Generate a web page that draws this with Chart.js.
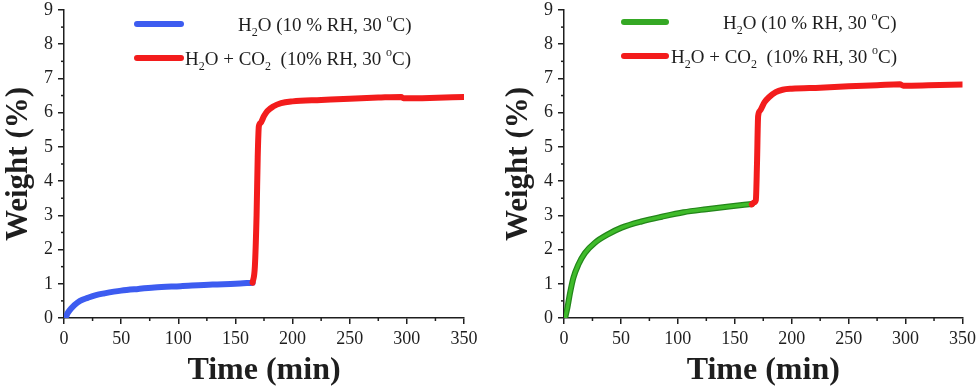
<!DOCTYPE html>
<html>
<head>
<meta charset="utf-8">
<script src="https://cdn.jsdelivr.net/npm/chart.js@4.4.1/dist/chart.umd.min.js"></script>
<style>
  html, body { margin: 0; padding: 0; background: #fff; }
  .panel { position: absolute; top: 0; width: 490px; height: 390px; }
  #leftBox { left: 0; }
  #rightBox { left: 490px; }
</style>
</head>
<body>
<div class="panel" id="leftBox"><canvas id="leftChart" width="490" height="390"></canvas></div>
<div class="panel" id="rightBox"><canvas id="rightChart" width="490" height="390"></canvas></div>
<script>
// ---- data ----
// left panel: H2O only, then H2O + CO2
const leftWaterTime = [0, 1.5, 3.3, 6, 9.2, 14, 20.8, 28, 35.4, 50, 65, 79, 102, 130, 150, 165];
const leftWaterWt   = [0, 0.03, 0.15, 0.27, 0.38, 0.5, 0.59, 0.67, 0.72, 0.8, 0.85, 0.89, 0.93, 0.98, 1.0, 1.03];
const leftCo2Time = [165, 167, 168.5, 169.5, 170.5, 172, 175, 178, 183, 190, 200, 225, 250, 275, 295, 297, 320, 350];
const leftCo2Wt   = [1.03, 1.5, 3.0, 4.7, 5.6, 5.7, 5.9, 6.05, 6.18, 6.28, 6.33, 6.37, 6.41, 6.44, 6.46, 6.42, 6.43, 6.46];

// right panel
const rightWaterTime = [1, 3, 5.3, 8.2, 12.6, 18.4, 27.2, 38.9, 50.6, 68, 86, 105, 125, 145, 165];
const rightWaterWt   = [0, 0.3, 0.73, 1.17, 1.56, 1.9, 2.2, 2.45, 2.64, 2.82, 2.96, 3.09, 3.18, 3.26, 3.33];
const rightCo2Time = [165, 167, 168.5, 169.5, 170.5, 172, 176, 180, 186, 192, 200, 225, 250, 275, 295, 298, 320, 350];
const rightCo2Wt   = [3.32, 3.38, 3.45, 4.5, 5.9, 6.05, 6.3, 6.45, 6.6, 6.67, 6.7, 6.73, 6.77, 6.8, 6.83, 6.79, 6.8, 6.82];

// legend text, split into runs: normal / sub / sup
const legendWater = [['H', ''], ['2', 'sub'], ['O (10 % RH, 30 ', ''], ['o', 'sup'], ['C)', '']];
const legendCo2   = [['H', ''], ['2', 'sub'], ['O + CO', ''], ['2', 'sub'], ['  (10% RH, 30 ', ''], ['o', 'sup'], ['C)', '']];

const xTitle = 'Time (min)';
const yTitle = 'Weight (%)';

const SERIF = '"Liberation Serif", "Times New Roman", serif';
const INK = '#1e1e1e';

function toPoints(xs, ys) {
    return xs.map((x, i) => ({ x: x, y: ys[i] }));
}

// draws the short minor ticks and the legend (sub/superscript text)
const extrasPlugin = {
    id: 'extras',
    afterDraw(chart, args, opts) {
        const ctx = chart.ctx;
        const xs = chart.scales.x, ys = chart.scales.y;
        ctx.save();
        ctx.strokeStyle = INK;
        ctx.lineWidth = 1.5;
        // minor ticks
        for (let v = 0.5; v < 9; v += 1) {
            const p = ys.getPixelForValue(v);
            ctx.beginPath(); ctx.moveTo(ys.right - 3, p); ctx.lineTo(ys.right, p); ctx.stroke();
        }
        for (let v = 25; v < 350; v += 50) {
            const p = xs.getPixelForValue(v);
            ctx.beginPath(); ctx.moveTo(p, xs.top); ctx.lineTo(p, xs.top + 3); ctx.stroke();
        }
        // legend
        opts.items.forEach(item => {
            ctx.strokeStyle = item.color;
            ctx.lineWidth = 6;
            ctx.lineCap = 'round';
            ctx.beginPath();
            ctx.moveTo(opts.lineX0, item.lineY);
            ctx.lineTo(opts.lineX1, item.lineY);
            ctx.stroke();
            let x = item.textX;
            ctx.fillStyle = INK;
            ctx.textBaseline = 'alphabetic';
            item.runs.forEach(run => {
                let size = 19, dy = 0;
                if (run[1] === 'sub') { size = 12; dy = 5; }
                if (run[1] === 'sup') { size = 12; dy = -9; }
                ctx.font = size + 'px ' + SERIF;
                ctx.fillText(run[0], x, item.baseY + dy);
                x += ctx.measureText(run[0]).width;
            });
        });
        ctx.restore();
    }
};

function makeChart(canvasId, waterPts, co2Pts, waterColor, padLeft, padRight, legendOpts, greenEdge) {
    const datasets = [{
        label: 'H2O + CO2',
        data: co2Pts,
        borderColor: '#f31c1c',
        borderWidth: 6
    }];
    if (greenEdge) {
        datasets.push({ label: 'H2O core', data: waterPts, borderColor: waterColor, borderWidth: 3.5 });
        datasets.push({ label: 'H2O', data: waterPts, borderColor: greenEdge, borderWidth: 6 });
    } else {
        datasets.push({ label: 'H2O', data: waterPts, borderColor: waterColor, borderWidth: 6 });
    }
    datasets.forEach(d => {
        d.pointRadius = 0;
        d.fill = false;
        d.cubicInterpolationMode = 'monotone';
        d.borderCapStyle = 'round';
        d.borderJoinStyle = 'round';
    });

    return new Chart(document.getElementById(canvasId).getContext('2d'), {
        type: 'line',
        data: { datasets: datasets },
        options: {
            responsive: false,
            animation: false,
            devicePixelRatio: 1,
            layout: { padding: { left: padLeft, right: padRight, top: 10, bottom: 0 } },
            plugins: {
                legend: { display: false },
                tooltip: { enabled: false },
                extras: legendOpts
            },
            scales: {
                x: {
                    type: 'linear',
                    min: 0, max: 350,
                    afterFit: s => { s.height = 72; },
                    ticks: { stepSize: 50, padding: 4, color: INK, font: { family: SERIF, size: 18 }, maxRotation: 0 },
                    grid: { drawOnChartArea: false, tickLength: 6, color: INK, lineWidth: 1.5 },
                    border: { color: INK, width: 1.5 },
                    title: { display: true, text: xTitle, color: INK, padding: 0,
                             font: { family: SERIF, size: 32, weight: 'bold' } }
                },
                y: {
                    min: 0, max: 9,
                    afterFit: s => { s.width = 64; s.paddingTop = 0; s.paddingBottom = 0; },
                    ticks: { stepSize: 1, padding: 5, color: INK, font: { family: SERIF, size: 18 } },
                    grid: { drawOnChartArea: false, tickLength: 6, color: INK, lineWidth: 1.5 },
                    border: { color: INK, width: 1.5 },
                    title: { display: true, text: yTitle, color: INK, padding: 0,
                             font: { family: SERIF, size: 31, weight: 'bold' } }
                }
            }
        },
        plugins: [extrasPlugin]
    });
}

makeChart('leftChart',
    toPoints(leftWaterTime, leftWaterWt), toPoints(leftCo2Time, leftCo2Wt),
    '#3d5cf0', 0, 26,
    { lineX0: 137, lineX1: 181, items: [
        { color: '#3d5cf0', lineY: 24, textX: 238, baseY: 31, runs: legendWater },
        { color: '#f31c1c', lineY: 58, textX: 185, baseY: 65, runs: legendCo2 }
    ] }, null);

makeChart('rightChart',
    toPoints(rightWaterTime, rightWaterWt), toPoints(rightCo2Time, rightCo2Wt),
    '#3fbb2a', 10, 17,
    { lineX0: 134, lineX1: 176, items: [
        { color: '#35a824', lineY: 22, textX: 233, baseY: 29, runs: legendWater },
        { color: '#f31c1c', lineY: 56, textX: 181, baseY: 63, runs: legendCo2 }
    ] }, '#23861a');
</script>
</body>
</html>
